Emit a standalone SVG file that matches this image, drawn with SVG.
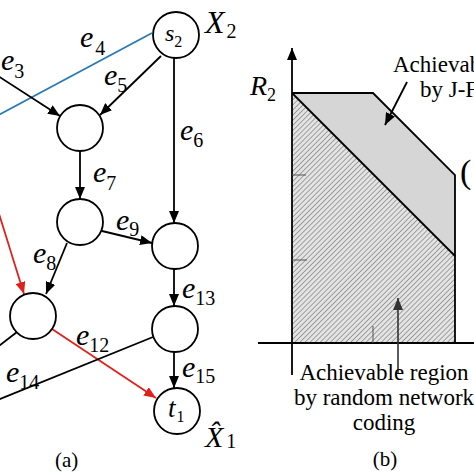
<svg xmlns="http://www.w3.org/2000/svg" width="474" height="474" viewBox="0 0 474 474">
<style>
.n{fill:#fff;stroke:#000;stroke-width:1.8}
.k{stroke:#000;stroke-width:1.8;fill:none}
.r{stroke:#e0201c;stroke-width:1.8;fill:none}
.b{stroke:#2a7ab4;stroke-width:1.8;fill:none}
.e{font-family:'Liberation Serif','DejaVu Serif',serif;font-style:italic;font-size:30px;fill:#000}
.s{font-style:normal;font-size:20px}
.t{font-family:'Liberation Serif','DejaVu Serif',serif;font-size:23px;fill:#000}
.c{font-family:'Liberation Serif','DejaVu Serif',serif;font-size:21px;fill:#000}
</style>
<defs>
<marker id="ak" markerWidth="12" markerHeight="10" refX="12" refY="5" orient="auto" markerUnits="userSpaceOnUse"><path d="M0,0 L12,5 L0,10 z" fill="#000"/></marker>
<marker id="ar" markerWidth="12" markerHeight="10" refX="12" refY="5" orient="auto" markerUnits="userSpaceOnUse"><path d="M0,0 L12,5 L0,10 z" fill="#e0201c"/></marker>
<marker id="ag" markerWidth="12" markerHeight="10" refX="12" refY="5" orient="auto" markerUnits="userSpaceOnUse"><path d="M0,0 L12,5 L0,10 z" fill="#333"/></marker>
<pattern id="hatch" width="3.6" height="3.6" patternUnits="userSpaceOnUse" patternTransform="rotate(45)">
<rect width="3.6" height="3.6" fill="#e4e4e4"/>
<line x1="0" y1="0" x2="0" y2="3.6" stroke="#6e6e6e" stroke-width="1.2"/>
</pattern>
</defs>

<g id="connectors">
<line class="b" x1="152" y1="33" x2="-5" y2="117"/>
<line class="k" x1="-2" y1="76" x2="60" y2="116" marker-end="url(#ak)"/>
<line class="k" x1="161" y1="56" x2="100" y2="115" marker-end="url(#ak)"/>
<line class="k" x1="174" y1="58" x2="174" y2="223" marker-end="url(#ak)"/>
<line class="k" x1="80" y1="151" x2="80" y2="199" marker-end="url(#ak)"/>
<line class="k" x1="102" y1="231" x2="152" y2="243" marker-end="url(#ak)"/>
<line class="k" x1="67" y1="243" x2="46" y2="294" marker-end="url(#ak)"/>
<line class="r" x1="-10" y1="185" x2="24" y2="294" marker-end="url(#ar)"/>
<line class="r" x1="52" y1="329" x2="156" y2="398" marker-end="url(#ar)"/>
<line class="k" x1="17" y1="332" x2="-10" y2="353"/>
<line class="k" x1="153" y1="337" x2="-10" y2="403"/>
<line class="k" x1="174" y1="269" x2="174" y2="306" marker-end="url(#ak)"/>
<line class="k" x1="174" y1="352" x2="174" y2="388" marker-end="url(#ak)"/>
</g>

<g id="labels">
<text class="e" x="1" y="70">e<tspan class="s" dy="8">3</tspan></text>
<text class="e" x="80" y="47">e<tspan class="s" dx="2" dy="8">4</tspan></text>
<text class="e" x="104" y="85">e<tspan class="s" dy="7">5</tspan></text>
<text class="e" x="180" y="140">e<tspan class="s" dy="7">6</tspan></text>
<text class="e" x="93" y="182">e<tspan class="s" dy="8">7</tspan></text>
<text class="e" x="33" y="263">e<tspan class="s" dy="7">8</tspan></text>
<text class="e" x="116" y="230">e<tspan class="s" dy="6">9</tspan></text>
<text class="e" x="76" y="345">e<tspan class="s" dy="7">12</tspan></text>
<text class="e" x="182" y="298">e<tspan class="s" dy="7">13</tspan></text>
<text class="e" x="6" y="382">e<tspan class="s" dy="7">14</tspan></text>
<text class="e" x="182" y="377">e<tspan class="s" dy="6">15</tspan></text>
<text class="e" x="205" y="33" style="font-size:32px">X<tspan class="s" dx="2" dy="5">2</tspan></text>
<text class="e" x="205" y="447">X̂<tspan class="s" dx="3" dy="1">1</tspan></text>
<text class="c" x="55" y="467">(a)</text>
</g>

<g id="s2"><circle class="n" cx="176" cy="35" r="23"/><text class="e" x="165" y="41" style="font-size:24px">s<tspan class="s" style="font-size:16px" dy="6">2</tspan></text></g>
<g id="n1"><circle class="n" cx="80" cy="128" r="23"/></g>
<g id="n2"><circle class="n" cx="80" cy="222" r="23"/></g>
<g id="n3"><circle class="n" cx="175" cy="246" r="23"/></g>
<g id="n4"><circle class="n" cx="33" cy="316" r="23"/></g>
<g id="n5"><circle class="n" cx="175" cy="329" r="23"/></g>
<g id="t1"><circle class="n" cx="177" cy="411" r="23"/><text class="e" x="168" y="417" style="font-size:27px">t<tspan class="s" style="font-size:16px" dx="1" dy="5">1</tspan></text></g>

<g id="panel-b">
<polygon points="292,93 373,93 455,175 455,258 292,93" fill="#d6d6d6"/>
<polygon points="292,93 455,256 455,343 292,343" fill="url(#hatch)"/>
<polyline class="k" points="292,93 373,93 455,175 455,343"/>
<line class="k" x1="292" y1="93" x2="455" y2="256" stroke-width="1.5"/>
<line class="k" x1="292" y1="375" x2="292" y2="48" marker-end="url(#ak)"/>
<line class="k" x1="258" y1="343" x2="474" y2="343"/>
<line stroke="#555" stroke-width="1" x1="292" y1="175" x2="306" y2="175"/>
<line stroke="#555" stroke-width="1" x1="292" y1="260" x2="307" y2="260"/>
<line stroke="#555" stroke-width="1" x1="373" y1="326" x2="373" y2="343"/>
<text class="e" x="250" y="95" style="font-size:28px">R<tspan class="s" style="font-size:18px" dy="6">2</tspan></text>
<line class="k" x1="407" y1="82" x2="385" y2="125" stroke-width="1.4" marker-end="url(#ak)"/>
<text class="t" x="393" y="72">Achievable region</text>
<text class="t" x="420" y="97">by J-F</text>
<text class="t" x="460" y="183" style="font-size:34px">(</text>
<line x1="398" y1="373" x2="398" y2="298" stroke="#333" stroke-width="1.6" marker-end="url(#ag)"/>
<text class="t" x="384" y="380" text-anchor="middle">Achievable region</text>
<text class="t" x="384" y="405" text-anchor="middle">by random network</text>
<text class="t" x="384" y="430" text-anchor="middle">coding</text>
<text class="c" x="385" y="466" text-anchor="middle">(b)</text>
</g>
</svg>
